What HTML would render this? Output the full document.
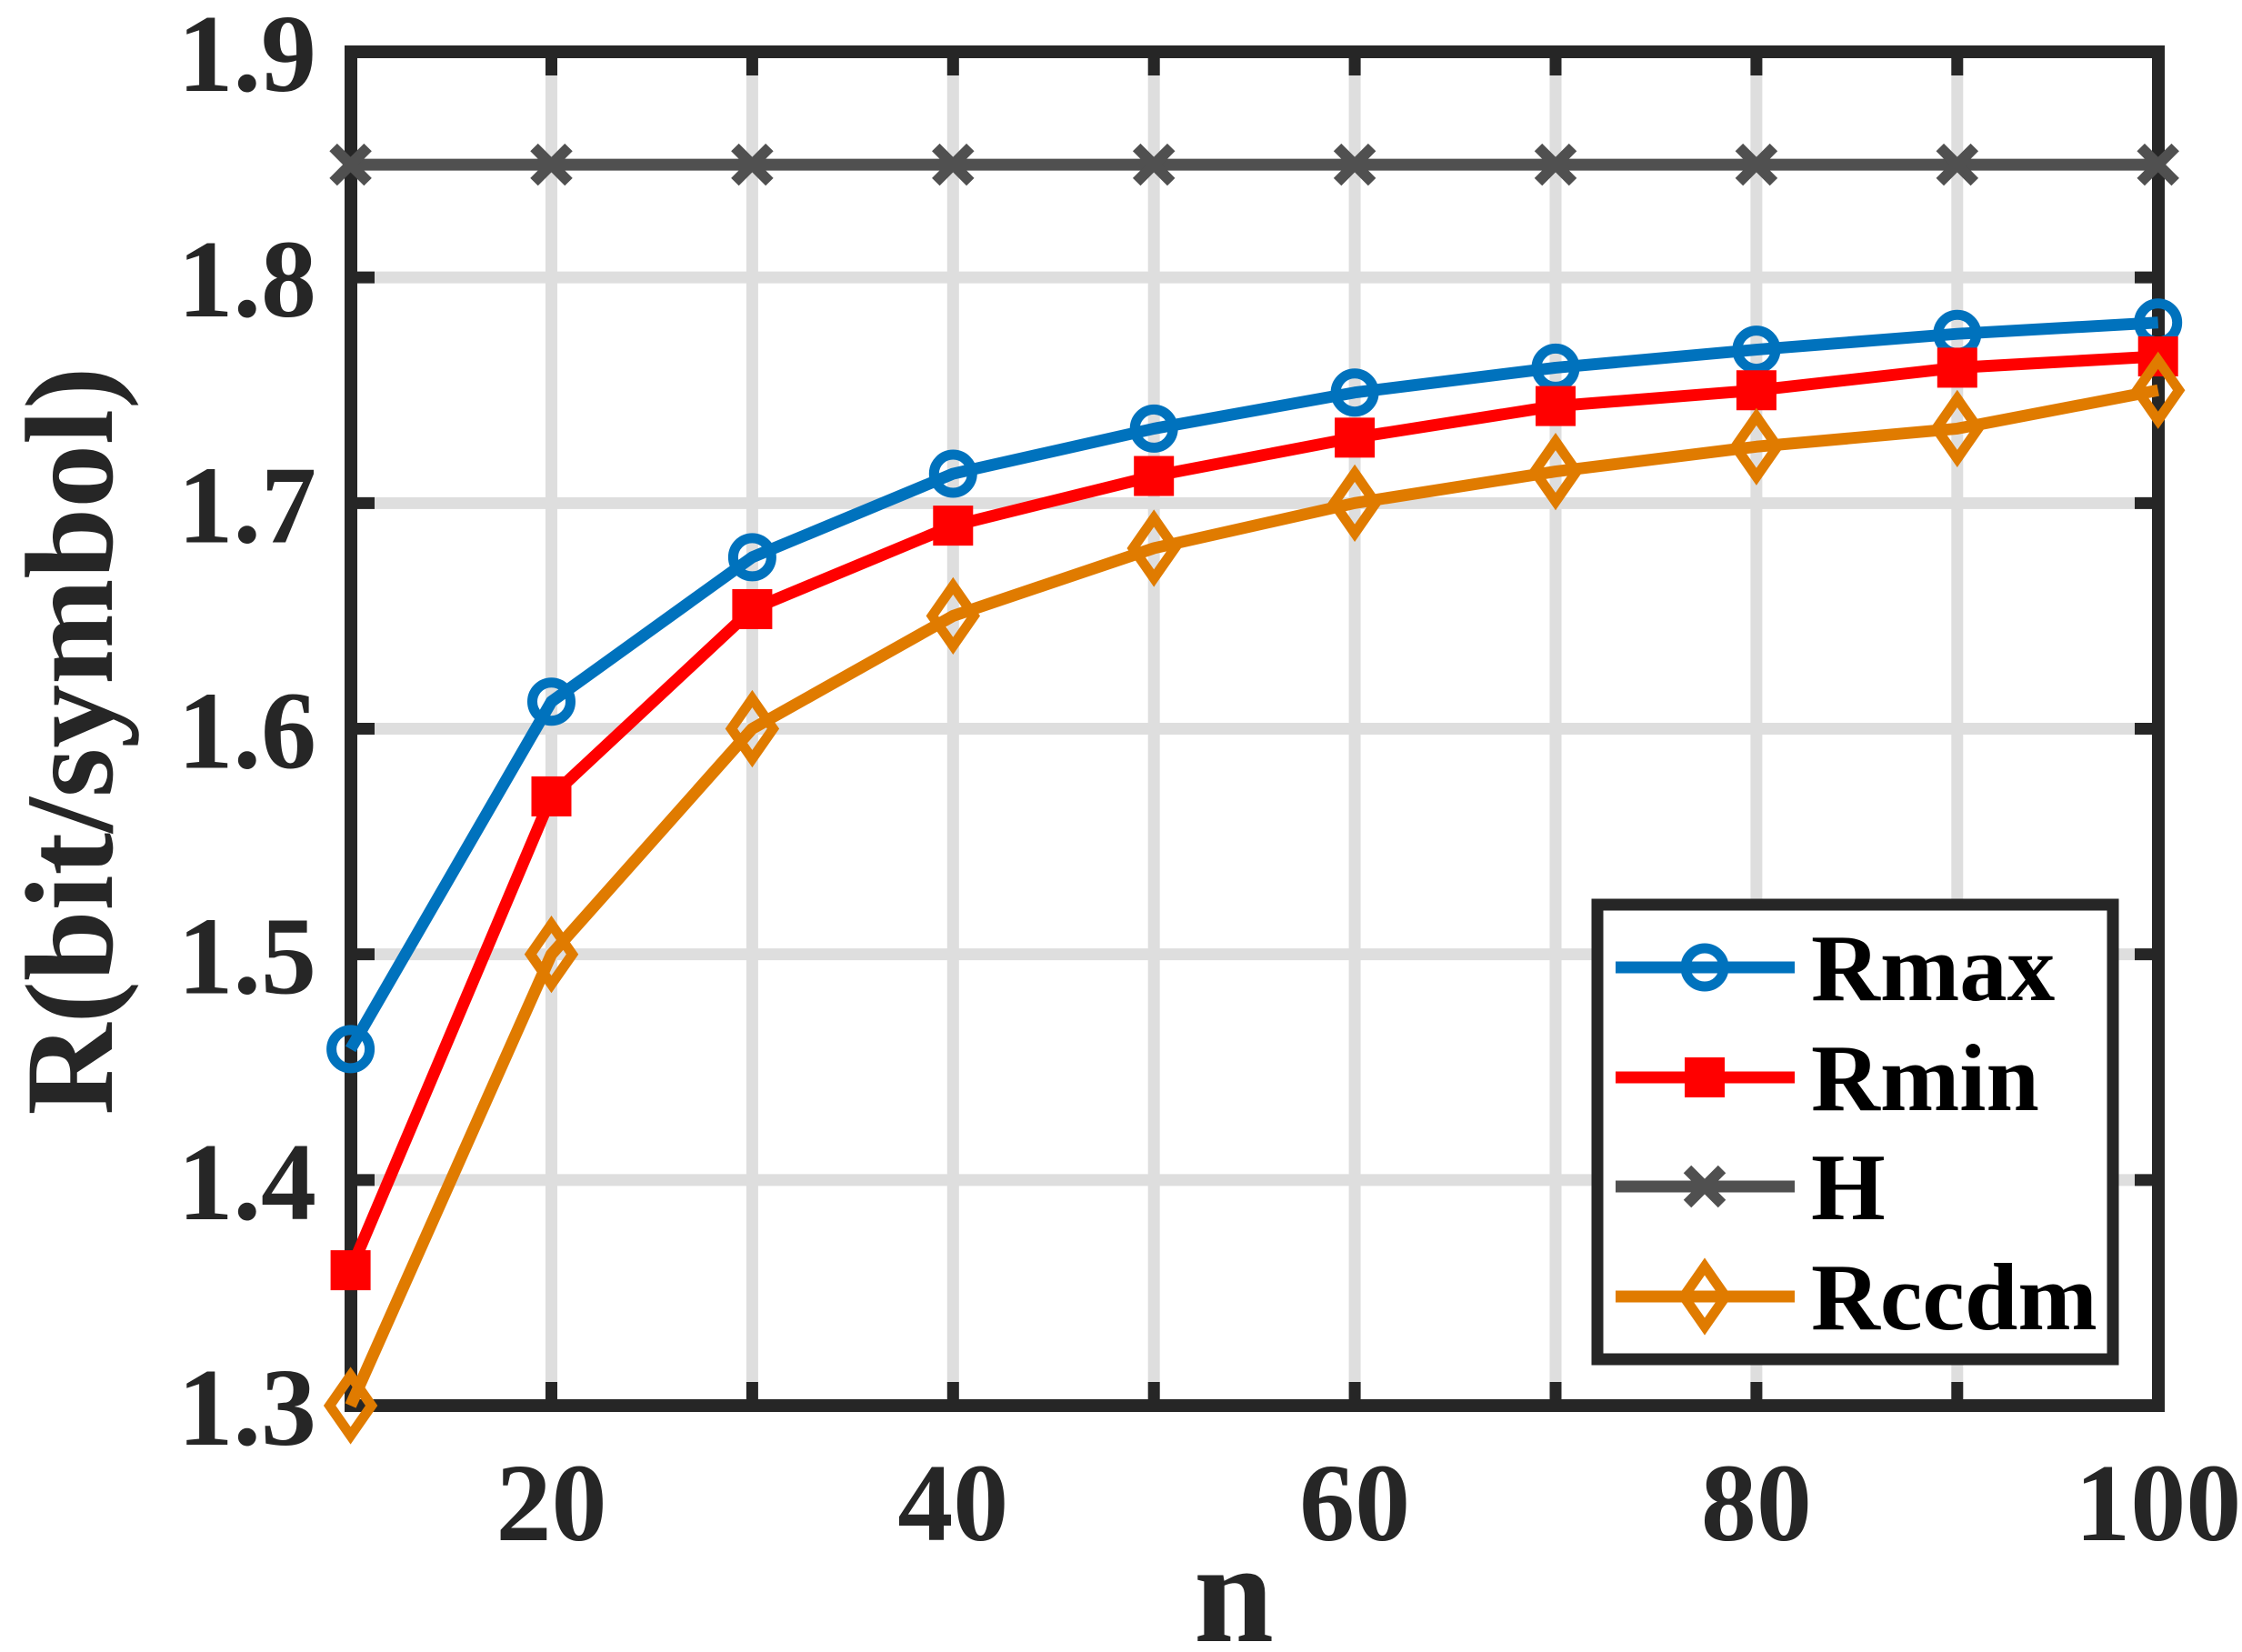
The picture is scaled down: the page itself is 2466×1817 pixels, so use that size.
<!DOCTYPE html>
<html><head><meta charset="utf-8"><style>
html,body{margin:0;padding:0;background:#fff;}
svg{display:block;}
text{font-family:"Liberation Serif","Times New Roman",serif;font-weight:bold;}
</style></head><body>
<svg id="s" width="2466" height="1817" xmlns="http://www.w3.org/2000/svg"></svg>
<script>
const X=n=>385.6+(n-10)*22.09, Y=v=>1546-(v-1.3)*2481.7;
let h='';
for(let n=20;n<=90;n+=10) h+=`<line x1="${X(n)}" y1="57" x2="${X(n)}" y2="1546" stroke="#dedede" stroke-width="13"/>`;
for(let v=1.4;v<1.85;v+=0.1) h+=`<line x1="386" y1="${Y(v)}" x2="2374" y2="${Y(v)}" stroke="#dedede" stroke-width="13"/>`;
const A='#262626';
for(let n=20;n<=90;n+=10){h+=`<line x1="${X(n)}" y1="1546" x2="${X(n)}" y2="1520" stroke="${A}" stroke-width="13"/><line x1="${X(n)}" y1="57" x2="${X(n)}" y2="83" stroke="${A}" stroke-width="13"/>`;}
for(let i=1;i<6;i++){const y=Y(1.3+i*0.1);h+=`<line x1="386" y1="${y}" x2="412" y2="${y}" stroke="${A}" stroke-width="13"/><line x1="2374" y1="${y}" x2="2348" y2="${y}" stroke="${A}" stroke-width="13"/>`;}
h+=`<rect x="386" y="57" width="1988" height="1489" fill="none" stroke="${A}" stroke-width="14"/>`;
for(let i=0;i<=6;i++){const v=(1.3+i*0.1).toFixed(1);h+=`<text x="348" y="${Y(+v)+43}" font-size="122" fill="${A}" text-anchor="end">${v}</text>`;}
for(let n=20;n<=100;n+=20) h+=`<text x="${X(n)}" y="1694" font-size="122" fill="${A}" text-anchor="middle">${n}</text>`;
h+=`<text x="1357" y="1805" font-size="158" fill="${A}" text-anchor="middle">n</text>`;
h+=`<text transform="translate(123,815) rotate(-90)" font-size="138" fill="${A}" text-anchor="middle" textLength="823" lengthAdjust="spacingAndGlyphs">R(bit/symbol)</text>`;
const ns=[10,20,30,40,50,60,70,80,90,100];
const S=[
 {c:'#0072BD',m:'o',d:[1.458,1.612,1.676,1.713,1.733,1.749,1.760,1.768,1.775,1.780]},
 {c:'#FF0000',m:'s',d:[1.360,1.570,1.653,1.690,1.712,1.729,1.743,1.750,1.760,1.765]},
 {c:'#505050',m:'x',d:ns.map(_=>1.85)},
 {c:'#E07B00',m:'d',d:[1.300,1.500,1.600,1.650,1.680,1.700,1.714,1.725,1.733,1.750]}];
function mk(m,x,y,c){
 if(m=='o')return `<circle cx="${x}" cy="${y}" r="21" fill="none" stroke="${c}" stroke-width="11"/>`;
 if(m=='s')return `<rect x="${x-17}" y="${y-17}" width="34" height="34" fill="${c}" stroke="${c}" stroke-width="10"/>`;
 if(m=='x')return `<path d="M${x-19} ${y-19}L${x+19} ${y+19}M${x+19} ${y-19}L${x-19} ${y+19}" stroke="${c}" stroke-width="12"/>`;
 return `<path d="M${x} ${y-33}L${x+23} ${y}L${x} ${y+33}L${x-23} ${y}Z" fill="none" stroke="${c}" stroke-width="11"/>`;}
const ord=[2,0,1,3];
for(const k of ord){const s=S[k];h+=`<polyline points="${ns.map((n,i)=>X(n)+','+Y(s.d[i])).join(' ')}" fill="none" stroke="${s.c}" stroke-width="13" stroke-linejoin="round"/>`;
 ns.forEach((n,i)=>h+=mk(s.m,X(n),Y(s.d[i]),s.c));}
h+=`<rect x="1757" y="995" width="567" height="500" fill="#fff" stroke="${A}" stroke-width="13"/>`;
const names=['Rmax','Rmin','H','Rccdm'],ly=[1064,1185,1305,1426];
S.forEach((s,i)=>{h+=`<line x1="1777" y1="${ly[i]}" x2="1974" y2="${ly[i]}" stroke="${s.c}" stroke-width="13"/>`+mk(s.m,1875,ly[i],s.c)+`<text x="1992" y="${ly[i]+36}" font-size="105" fill="#000">${names[i]}</text>`;});
document.getElementById('s').innerHTML=h;
</script>
</body></html>
